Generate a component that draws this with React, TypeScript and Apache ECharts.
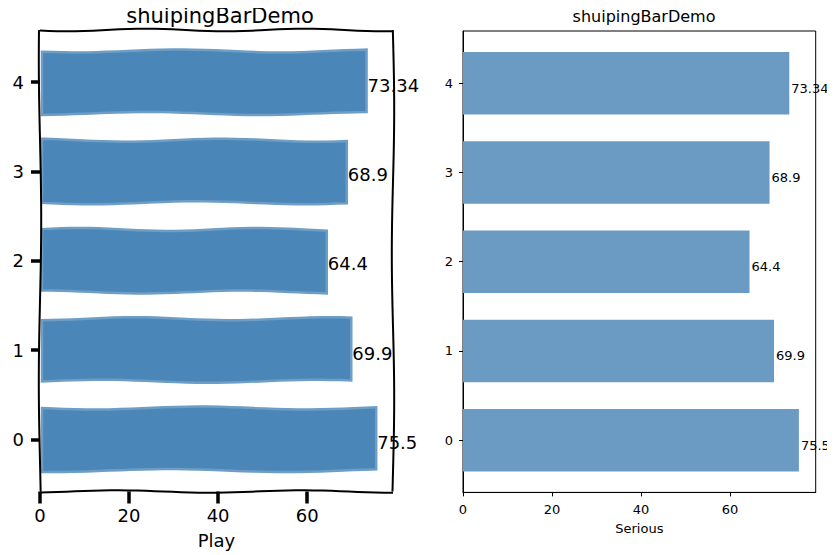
import React, { useEffect, useRef } from "react";
import * as echarts from "echarts";

const categories = ["0", "1", "2", "3", "4"];
const values = [75.5, 69.9, 64.4, 68.9, 73.34];
const titleText = "shuipingBarDemo";
const leftXLabel = "Play";
const rightXLabel = "Serious";

const X_MAX = 79.275;
const Y_MIN = -0.585;
const Y_MAX = 4.585;
const BAR_H = 0.7;

function wobblyLine(a: number[], b: number[], amp: number, freq: number, phase: number) {
  const pts: number[][] = [];
  const n = 40;
  const dx = b[0] - a[0];
  const dy = b[1] - a[1];
  const len = Math.sqrt(dx * dx + dy * dy) || 1;
  const nx = -dy / len;
  const ny = dx / len;
  for (let i = 0; i <= n; i++) {
    const t = i / n;
    const off = amp * Math.sin(t * freq + phase);
    pts.push([a[0] + dx * t + nx * off, a[1] + dy * t + ny * off]);
  }
  return pts;
}

function wobblyFrame(params: any, api: any) {
  const tl = api.coord([0, Y_MAX]);
  const br = api.coord([X_MAX, Y_MIN]);
  const tr = [br[0], tl[1]];
  const bl = [tl[0], br[1]];
  const st = { stroke: "#000", lineWidth: 2, fill: "none" };
  return {
    type: "group",
    children: [
      { type: "polyline", shape: { points: wobblyLine(tl, tr, 1.3, 14, 0.5) }, style: st },
      { type: "polyline", shape: { points: wobblyLine(bl, br, 1.2, 12, 2.1) }, style: st },
      { type: "polyline", shape: { points: wobblyLine(tl, bl, 1.2, 9, 1.0) }, style: st },
      { type: "polyline", shape: { points: wobblyLine(tr, br, 1.2, 10, 3.0) }, style: st },
    ],
  };
}

function wobblyBar(params: any, api: any) {
  const idx = api.value(1);
  const v = api.value(0);
  const p0 = api.coord([0, idx]);
  const p1 = api.coord([v, idx]);
  const h = Math.abs(api.size([0, BAR_H])[1]);
  const x0 = p0[0] + 2;
  const x1 = p1[0];
  const yc = p0[1];
  const n = 30;
  const pts: number[][] = [];
  const ph = idx * 1.7;
  for (let i = 0; i <= n; i++) {
    const t = i / n;
    const x = x0 + t * (x1 - x0);
    pts.push([x, yc - h / 2 + 1.5 * Math.sin(t * 10 + ph)]);
  }
  for (let i = n; i >= 0; i--) {
    const t = i / n;
    const x = x0 + t * (x1 - x0);
    pts.push([x, yc + h / 2 + 1.5 * Math.sin(t * 9 + ph + 1.3)]);
  }
  return {
    type: "group",
    children: [
      {
        type: "polygon",
        shape: { points: pts },
        style: { fill: "#4a86b7", stroke: "#6e9ec6", lineWidth: 2.5 },
      },
      {
        type: "text",
        x: x1 + 1,
        y: yc + 3,
        style: {
          text: String(values[params.dataIndex]),
          fill: "#000",
          font: '18px "DejaVu Sans"',
          verticalAlign: "middle",
          align: "left",
        },
      },
    ],
  };
}

function plainBar(params: any, api: any) {
  const idx = api.value(1);
  const v = api.value(0);
  const p0 = api.coord([0, idx]);
  const p1 = api.coord([v, idx]);
  const h = Math.abs(api.size([0, BAR_H])[1]);
  return {
    type: "group",
    children: [
      {
        type: "rect",
        shape: { x: p0[0], y: p0[1] - h / 2, width: p1[0] - p0[0], height: h },
        style: { fill: "#6b9bc3" },
      },
      {
        type: "text",
        x: p1[0] + 2,
        y: p0[1] + 5,
        style: {
          text: String(values[params.dataIndex]),
          fill: "#000",
          font: '13px "DejaVu Sans"',
          verticalAlign: "middle",
          align: "left",
        },
      },
    ],
  };
}

export default function App() {
  const ref = useRef<HTMLDivElement>(null);
  useEffect(() => {
    if (!ref.current) return;
    const chart = echarts.init(ref.current, undefined, { renderer: "svg" });
    const data = values.map((v, i) => [v, i]);
    const yIdx = categories.map((c) => Number(c));
    chart.setOption({
      animation: false,
      backgroundColor: "#fff",
      title: [
        {
          text: titleText,
          left: 215,
          top: 0,
          textAlign: "center",
          textStyle: { fontFamily: "DejaVu Sans", fontSize: 21, fontWeight: "normal", color: "#000" },
        },
        {
          text: titleText,
          left: 639,
          top: 3,
          textAlign: "center",
          textStyle: { fontFamily: "DejaVu Sans", fontSize: 16, fontWeight: "normal", color: "#000" },
        },
      ],
      grid: [
        { left: 40, top: 30, width: 353, height: 461.5 },
        { left: 463, top: 31, width: 352.7, height: 461.4, show: true, borderColor: "#000", borderWidth: 1, backgroundColor: "transparent" },
      ],
      xAxis: [
        {
          gridIndex: 0,
          type: "value",
          position: "bottom",
          min: 0,
          max: X_MAX,
          interval: 20,
          splitLine: { show: false },
          axisLine: { show: false, onZero: false },
          axisTick: { show: true, length: 12, lineStyle: { color: "#000", width: 3.5 } },
          axisLabel: { color: "#000", fontFamily: "DejaVu Sans", fontSize: 18, margin: 15, showMaxLabel: false },
          name: leftXLabel,
          nameLocation: "middle",
          nameGap: 40,
          nameTextStyle: { color: "#000", fontFamily: "DejaVu Sans", fontSize: 18 },
        },
        {
          gridIndex: 1,
          type: "value",
          position: "bottom",
          min: 0,
          max: X_MAX,
          interval: 20,
          splitLine: { show: false },
          axisLine: { show: true, onZero: false, lineStyle: { color: "#000", width: 1 } },
          axisTick: { show: true, length: 4, lineStyle: { color: "#000", width: 1 } },
          axisLabel: { color: "#000", fontFamily: "DejaVu Sans", fontSize: 13, margin: 11, showMaxLabel: false },
          name: rightXLabel,
          nameLocation: "middle",
          nameGap: 30,
          nameTextStyle: { color: "#000", fontFamily: "DejaVu Sans", fontSize: 13 },
        },
      ],
      yAxis: [
        {
          gridIndex: 0,
          type: "value",
          position: "left",
          min: Y_MIN,
          max: Y_MAX,
          splitLine: { show: false },
          axisLine: { show: false, onZero: false },
          axisTick: { show: true, length: 9, lineStyle: { color: "#000", width: 3.5 }, customValues: yIdx },
          axisLabel: {
            customValues: yIdx,
            color: "#000",
            fontFamily: "DejaVu Sans",
            fontSize: 18,
            margin: 16,
            formatter: (v: number) => categories[Math.round(v)] ?? "",
          },
        },
        {
          gridIndex: 1,
          type: "value",
          position: "left",
          min: Y_MIN,
          max: Y_MAX,
          splitLine: { show: false },
          axisLine: { show: true, onZero: false, lineStyle: { color: "#000", width: 1 } },
          axisTick: { show: true, length: 4, lineStyle: { color: "#000", width: 1 }, customValues: yIdx },
          axisLabel: {
            customValues: yIdx,
            color: "#000",
            fontFamily: "DejaVu Sans",
            fontSize: 13,
            margin: 10,
            formatter: (v: number) => categories[Math.round(v)] ?? "",
          },
        },
      ],
      series: [
        { type: "custom", xAxisIndex: 0, yAxisIndex: 0, data, renderItem: wobblyBar, clip: false, z: 2 },
        { type: "custom", xAxisIndex: 0, yAxisIndex: 0, data: [[0, 0]], renderItem: wobblyFrame, clip: false, z: 3, silent: true },
        { type: "custom", xAxisIndex: 1, yAxisIndex: 1, data, renderItem: plainBar, clip: false },
      ],
    });
    return () => chart.dispose();
  }, []);
  return <div ref={ref} style={{ width: 835, height: 555, marginLeft: -8, marginTop: -8 }} />;
}
